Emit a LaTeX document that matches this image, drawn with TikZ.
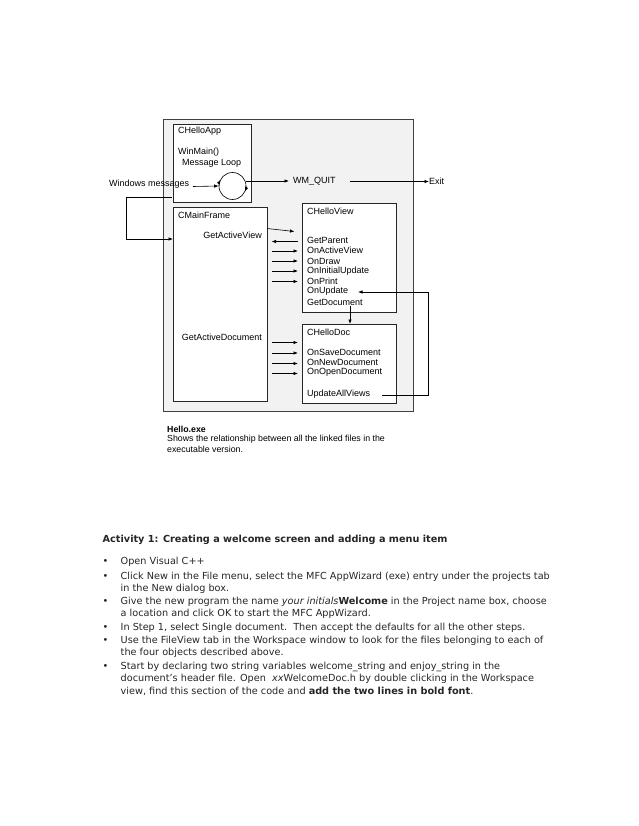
\documentclass[tikz,border=0pt]{standalone}
\usepackage{fontspec}
\setmainfont{DejaVu Sans}
\newfontfamily\arialf{Liberation Sans}
\usetikzlibrary{arrows.meta}
\begin{document}
\begin{tikzpicture}[x=1pt,y=-1pt,
  box/.style={draw=black!85, line width=0.6pt, fill=white, inner sep=0pt, anchor=north west},
  lbl/.style={anchor=west, inner sep=0pt, font=\arialf\fontsize{9}{10}\selectfont},
  captxt/.style={anchor=west, inner sep=0pt, font=\arialf\fontsize{8.8}{10}\selectfont},
  arr/.style={-{Latex[length=4.5pt,width=3.4pt]}, line width=0.6pt},
  body/.style={anchor=west, inner sep=0pt, font=\fontsize{9.7}{12}\selectfont, text=black!85},
  bul/.style={anchor=center, inner sep=0pt, font=\fontsize{9.7}{12}\selectfont, text=black!85}]
\useasboundingbox[fill=white] (0,0) rectangle (638,826);

% outer frame
\node[box, fill=black!5, draw=black!75, minimum width=250pt, minimum height=292pt] (outer) at (163,119) {};
% boxes
\node[box, minimum width=78pt, minimum height=78pt] (app) at (173,124) {};
\node[box, minimum width=94pt, minimum height=194pt] (frame) at (173,207) {};
\node[box, minimum width=94pt, minimum height=109pt] (view) at (302,203) {};
\node[box, minimum width=94pt, minimum height=79pt] (doc) at (302,324) {};

% CHelloApp texts
\node[lbl] (tApp) at (178,131) {CHelloApp};
\node[lbl] (tWin) at (178,152) {WinMain()};
\node[lbl] (tLoop) at (182,163) {Message Loop};
\node[circle, draw, line width=0.6pt, minimum size=27pt, inner sep=0pt] (loop) at (232.5,186) {};
\draw[arr] ([shift={(180:13.5)}]loop.center) arc[start angle=180, end angle=208, radius=13.5];
\draw[arr] ([shift={(0:13.5)}]loop.center) arc[start angle=0, end angle=24, radius=13.5];

\node[lbl] (tWinMsg) at (109,184) {Windows messages};
\coordinate (wmStart) at (193,186.5);
\draw[arr] (wmStart) -- (loop.west);
\node[lbl] (tQuit) at (293,181) {WM\_QUIT};
\coordinate (loopR) at (245.6,181);
\coordinate (quitL) at (289,181);
\draw[arr] (loopR) -- (quitL);
\node[lbl] (tExit) at (429,181.5) {Exit};
\coordinate (quitR) at (350,181.5);
\draw[arr] (quitR) -- (tExit.west);

% left connector
\coordinate (c1) at (172,197);
\draw[arr] (c1) -- (126,197) -- (126,239) -- (frame.west |- 0,239);

% CMainFrame texts
\node[lbl] (tFrame) at (178,215.5) {CMainFrame};
\node[lbl, anchor=east] (tGAV) at (262,235) {GetActiveView};
\node[lbl, anchor=east] (tGAD) at (262,337) {GetActiveDocument};

% CHelloView texts
\node[lbl] (tView) at (307,211) {CHelloView};
\node[lbl] (v1) at (307,240) {GetParent};
\node[lbl] (v2) at (307,250.5) {OnActiveView};
\node[lbl] (v3) at (307,261) {OnDraw};
\node[lbl] (v4) at (307,271) {OnInitialUpdate};
\node[lbl] (v5) at (307,281.3) {OnPrint};
\node[lbl] (v6) at (307,291.6) {OnUpdate};
\node[lbl] (v7) at (307,302) {GetDocument};

% CHelloDoc texts
\node[lbl] (tDoc) at (307,332.5) {CHelloDoc};
\node[lbl] (d1) at (307,352.7) {OnSaveDocument};
\node[lbl] (d2) at (307,362.8) {OnNewDocument};
\node[lbl] (d3) at (307,372.6) {OnOpenDocument};
\node[lbl] (d4) at (307,394) {UpdateAllViews};

% arrows frame -> view
\draw[arr] (267,228.5) -- (294.5,231.5);
\draw[arr] (298,241.5) -- (271.5,241.5);
\foreach \yy in {251,261,271,281.5} \draw[arr] (271.5,\yy) -- (298,\yy);
% arrows frame -> doc
\foreach \yy in {342.5,353,363.5,373.5} \draw[arr] (271.5,\yy) -- (298,\yy);

% GetDocument -> CHelloDoc
\coordinate (gdS) at (350,305.5);
\draw[arr] (gdS) -- (doc.north -| gdS);
% UpdateAllViews -> OnUpdate
\coordinate (uavS) at (382,395.5);
\coordinate (onuE) at (358,292);
\draw[arr] (uavS) -- (428,395.5) -- (428,292) -- (onuE);

% caption
\node[captxt, font=\arialf\bfseries\fontsize{8.8}{10}\selectfont] (cTitle) at (167,429) {Hello.exe};
\node[captxt] (c2) at (167,439.3) {Shows the relationship between all the linked files in the};
\node[captxt] (c3) at (167,449.8) {executable version.};

% body text
\node[body, font=\bfseries\fontsize{9.7}{12}\selectfont] (hAct) at (102.5,540) {Activity 1: Creating a welcome screen and adding a menu item};
\foreach \yy/\nm in {562/b1,576.5/b2,602/b3,628/b4,641/b5,666.5/b6}
  \node[bul] (\nm) at (105.5,\yy) {•};
\node[body] (l1) at (120.5,562) {Open Visual C++};
\node[body] (l2) at (120.5,576.5) {Click New in the File menu, select the MFC AppWizard (exe) entry under the projects tab};
\node[body] (l3) at (120.5,588.5) {in the New dialog box.};
\node[body] (l4) at (120.5,602) {Give the new program the name \textit{your initials}\textbf{Welcome} in the Project name box, choose};
\node[body] (l5) at (120.5,614) {a location and click OK to start the MFC AppWizard.};
\node[body] (l6) at (120.5,628) {In Step 1, select Single document.\ \ Then accept the defaults for all the other steps.};
\node[body] (l7) at (120.5,641) {Use the FileView tab in the Workspace window to look for the files belonging to each of};
\node[body] (l8) at (120.5,653) {the four objects described above.};
\node[body] (l9) at (120.5,666.5) {Start by declaring two string variables welcome\_string and enjoy\_string in the};
\node[body] (l10) at (120.5,679) {document’s header file. Open\ \ \textit{xx}WelcomeDoc.h by double clicking in the Workspace};
\node[body] (l11) at (120.5,691.5) {view, find this section of the code and \textbf{add the two lines in bold font}.};
\end{tikzpicture}
\end{document}
